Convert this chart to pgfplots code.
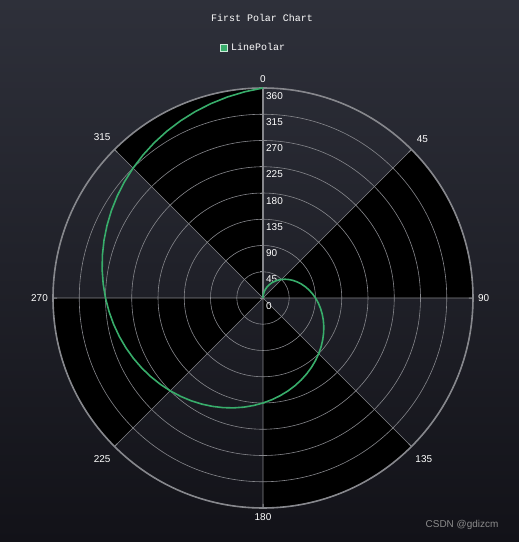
\documentclass[border=0pt]{standalone}
\usepackage{fontspec}
\setmainfont{Liberation Sans}
\newfontfamily\monofont{Liberation Mono}
\usepackage{pgfplots}
\usepackage{pgfplotstable}
\pgfplotsset{compat=1.18}
\usepgfplotslibrary{polar}
\usetikzlibrary{calc}

\definecolor{bgtop}{HTML}{2E303A}
\definecolor{bgbot}{HTML}{121218}
\definecolor{gridc}{HTML}{86878C}
\definecolor{linegreen}{HTML}{38AD6B}

\pgfplotsset{
  layers/chart/.define layer set={
    chart background,axis background,axis grid,axis ticks,axis lines,
    axis tick labels,main,axis descriptions,axis foreground}{},
}

% angle (clockwise from north, degrees) and radius
\pgfplotstableread{
theta r
0 0
5 5
10 10
15 15
20 20
25 25
30 30
35 35
40 40
45 45
50 50
55 55
60 60
65 65
70 70
75 75
80 80
85 85
90 90
95 95
100 100
105 105
110 110
115 115
120 120
125 125
130 130
135 135
140 140
145 145
150 150
155 155
160 160
165 165
170 170
175 175
180 180
185 185
190 190
195 195
200 200
205 205
210 210
215 215
220 220
225 225
230 230
235 235
240 240
245 245
250 250
255 255
260 260
265 265
270 270
275 275
280 280
285 285
290 290
295 295
300 300
305 305
310 310
315 315
320 320
325 325
330 330
335 335
340 340
345 345
350 350
355 355
360 360
}\spiraldata

\begin{document}
\begin{tikzpicture}[x=1bp,y=1bp]
\node[text=white, font=\monofont\fontsize{10}{12}\selectfont] at (-1,280) {First Polar Chart};
\filldraw[fill=linegreen, draw=white!75!linegreen, line width=0.6bp] (-43,247) rectangle (-36,254);
\node[anchor=west, text=white, inner sep=0pt, font=\monofont\fontsize{10}{12}\selectfont] at (-32,251) {LinePolar};
\node[text=gray!90!white, font=\fontsize{10}{12}\selectfont] at (199,-227) {CSDN @gdizcm};

\begin{polaraxis}[
    set layers=chart,
    at={(0,0)}, anchor=origin,
    scale only axis,
    width=420bp, height=420bp,
    xmin=0, xmax=360, ymin=0, ymax=360,
    xtick={0,45,...,315},
    xticklabels={90,45,0,315,270,225,180,135},
    ytick={0,45,...,360},
    yticklabels={},
    grid=major,
    grid style={gridc, line width=0.6bp},
    x axis line style={gridc, line width=1.6bp},
    y axis line style={draw=none},
    tick align=outside,
    major tick length=4bp,
    xtick style={gridc, line width=1bp},
    ytick style={draw=none},
    xticklabel style={text=white, font=\fontsize{10}{12}\selectfont, inner sep=9bp},
    clip=false,
]
% chart background gradient
\begin{pgfonlayer}{chart background}
\shade[top color=bgtop, bottom color=bgbot]
  ([shift={(-263bp,-244bp)}]axis cs:0,0) rectangle ([shift={(256bp,298bp)}]axis cs:0,0);
\end{pgfonlayer}
% alternating sector shades
\begin{pgfonlayer}{axis background}
\pgfplotsinvokeforeach{0,90,180,270}{
  \fill[black] let \p1=(axis cs:0,360), \p2=(axis cs:0,0),
    \n1={veclen(\x1-\x2,\y1-\y2)} in
    (\p2) -- ++(#1:\n1) arc[start angle=#1, delta angle=45, radius=\n1] -- cycle;
}
\end{pgfonlayer}

% radial axis along north
\draw[gridc, line width=1.6bp] (axis cs:90,0) -- (axis cs:90,360);
\pgfplotsinvokeforeach{0,45,90,135,180,225,270,315,360}{
  \draw[gridc, line width=1bp] (axis cs:90,#1) -- ++(-3bp,0bp);
  \node[anchor=north west, text=white, inner sep=0pt, xshift=3bp, yshift=-4bp,
        font=\fontsize{10}{12}\selectfont] at (axis cs:90,#1) {#1};
}

\addplot[linegreen, line width=1.6bp, x filter/.expression={90-x}]
  table[x=theta, y=r] {\spiraldata};
\end{polaraxis}
\end{tikzpicture}
\end{document}
